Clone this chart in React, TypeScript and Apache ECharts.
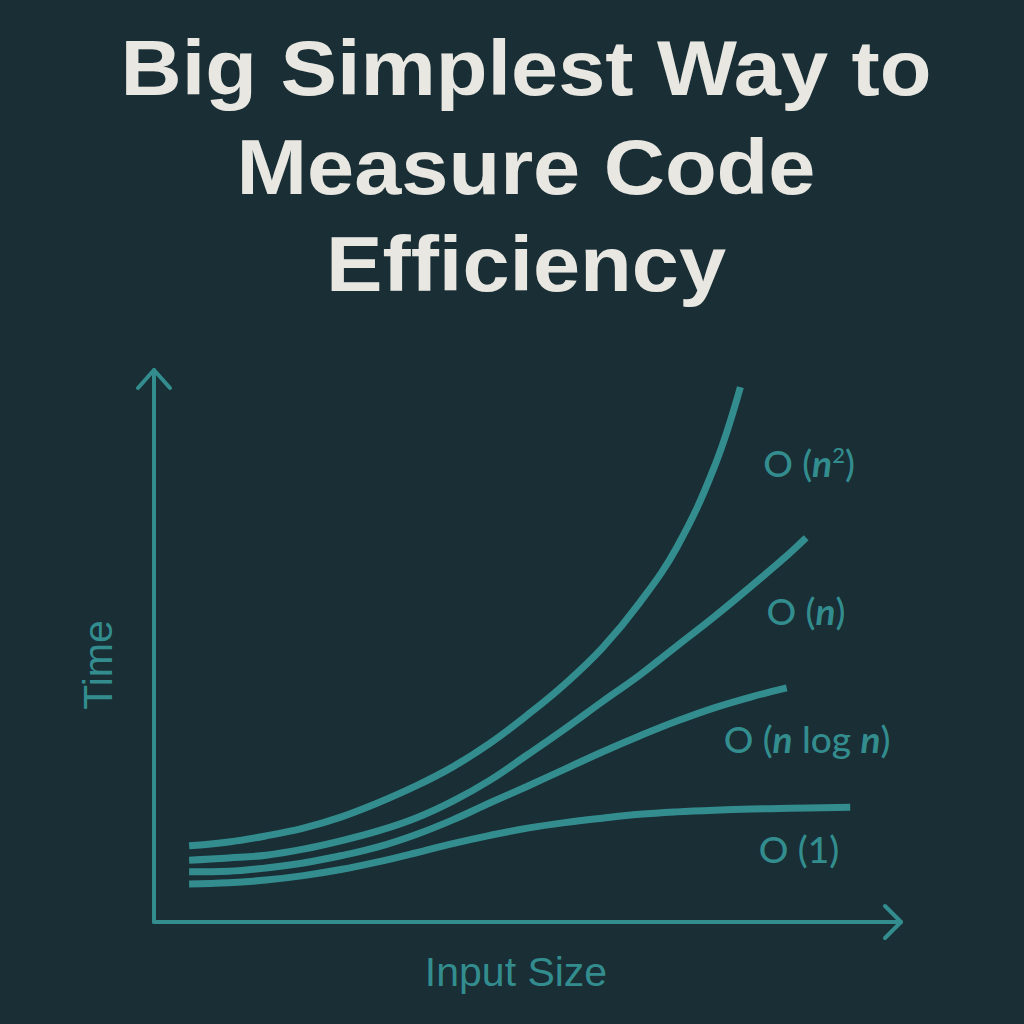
import React, { useEffect, useRef } from "react";
import * as echarts from "echarts";

const TITLE_LINES = ["Big Simplest Way to", "Measure Code", "Efficiency"];
const X_NAME = "Input Size";
const Y_NAME = "Time";

const SERIES_NAMES = ["O(n²)", "O(n)", "O(n log n)", "O(1)"];
const X_QUAD = [4.7, 10, 15, 20, 25, 30, 35, 40, 45, 50, 55, 60, 65, 70, 75, 78.5];
const Y_QUAD = [13.8, 14.5, 15.6, 17.0, 19.0, 21.6, 24.6, 28.1, 32.4, 37.5, 43.1, 49.6, 57.8, 67.9, 82.4, 96.9];
const X_LIN = [4.7, 10, 15, 20, 25, 30, 35, 40, 45, 50, 55, 60, 65, 70, 75, 80, 85, 87.3];
const Y_LIN = [11.2, 11.6, 12.1, 13.2, 14.7, 16.5, 18.8, 21.9, 25.7, 30.3, 35.0, 39.9, 44.7, 50.0, 55.3, 60.9, 66.7, 69.6];
const X_NLOG = [4.7, 10, 15, 20, 25, 30, 35, 40, 45, 50, 55, 60, 65, 70, 75, 80, 84.7];
const Y_NLOG = [9.1, 9.2, 9.8, 10.7, 12.0, 13.6, 15.8, 18.5, 21.6, 24.6, 27.7, 30.8, 33.7, 36.4, 38.8, 40.8, 42.4];
const X_CONST = [4.7, 10, 15, 20, 25, 30, 35, 40, 45, 50, 55, 60, 65, 70, 75, 80, 85, 93.2];
const Y_CONST = [6.9, 7.1, 7.6, 8.4, 9.5, 10.9, 12.5, 14.2, 15.7, 17.0, 18.0, 18.8, 19.5, 19.95, 20.25, 20.45, 20.6, 20.8];

const BG = "#192e35";
const TEAL = "#338d8e";
const TITLE_COLOR = "#e8e7e1";

const zip = (xs: number[], ys: number[]) => xs.map((x, i) => [x, ys[i]]);

export default function App() {
  const ref = useRef<HTMLDivElement>(null);
  useEffect(() => {
    if (!ref.current) return;
    const chart = echarts.init(ref.current, undefined, { renderer: "svg" });
    const seriesData = [
      zip(X_QUAD, Y_QUAD),
      zip(X_LIN, Y_LIN),
      zip(X_NLOG, Y_NLOG),
      zip(X_CONST, Y_CONST),
    ];
    const labelRich = {
      o: { fontFamily: "Lato", fontSize: 37, fontWeight: 500, fill: TEAL },
      i: { fontFamily: "Lato", fontSize: 37, fontWeight: "bold", fontStyle: "italic", fill: TEAL },
      s: { fontFamily: "Lato", fontSize: 22, fontWeight: 500, fill: TEAL, verticalAlign: "top" },
    };
    const labels = [
      { text: "{o|O (}{i|n}{s|2}{o|)}", x: 809, y: 462 },
      { text: "{o|O (}{i|n}{o|)}", x: 806, y: 610 },
      { text: "{o|O (}{i|n}{o| log }{i|n}{o|)}", x: 807, y: 738 },
      { text: "{o|O (1)}", x: 799, y: 848 },
    ];
    const graphic: any[] = [];
    const titleY = [68, 167, 264];
    TITLE_LINES.forEach((t, k) => {
      graphic.push({
        type: "text",
        x: 526,
        y: titleY[k],
        scaleX: 1.1,
        style: {
          text: t,
          fill: TITLE_COLOR,
          font: "bold 77px 'Liberation Sans', Arial, sans-serif",
          textAlign: "center",
          textVerticalAlign: "middle",
        },
      });
    });
    labels.forEach((l) => {
      graphic.push({
        type: "text",
        x: l.x,
        y: l.y,
        style: {
          text: l.text,
          rich: labelRich,
          fill: TEAL,
          textAlign: "center",
          textVerticalAlign: "middle",
        },
      });
    });
    graphic.push({
      type: "text",
      x: 516,
      y: 972,
      style: {
        text: X_NAME,
        fill: TEAL,
        font: "500 41px 'Liberation Sans', Arial, sans-serif",
        textAlign: "center",
        textVerticalAlign: "middle",
      },
    });
    graphic.push({
      type: "text",
      x: 98,
      y: 665,
      rotation: Math.PI / 2,
      style: {
        text: Y_NAME,
        fill: TEAL,
        font: "500 41px 'Liberation Sans', Arial, sans-serif",
        textAlign: "center",
        textVerticalAlign: "middle",
      },
    });
    graphic.push({
      type: "polyline",
      shape: { points: [[138, 388], [154, 370], [170, 388]] },
      style: { stroke: TEAL, lineWidth: 4, fill: "none", lineJoin: "round", lineCap: "round" },
    });
    graphic.push({
      type: "polyline",
      shape: { points: [[885, 906], [901, 922], [885, 938]] },
      style: { stroke: TEAL, lineWidth: 4, fill: "none", lineJoin: "round", lineCap: "round" },
    });

    chart.setOption({
      animation: false,
      backgroundColor: BG,
      grid: { left: 154, right: 123, top: 370, bottom: 102, containLabel: false },
      xAxis: {
        type: "value",
        min: 0,
        max: 100,
        axisLine: { show: true, lineStyle: { color: TEAL, width: 4 } },
        axisTick: { show: false },
        axisLabel: { show: false },
        splitLine: { show: false },
      },
      yAxis: {
        type: "value",
        min: 0,
        max: 100,
        axisLine: { show: true, lineStyle: { color: TEAL, width: 4 } },
        axisTick: { show: false },
        axisLabel: { show: false },
        splitLine: { show: false },
      },
      series: seriesData.map((d, k) => ({
        type: "line",
        name: SERIES_NAMES[k],
        data: d,
        smooth: 0.4,
        showSymbol: false,
        clip: false,
        lineStyle: { color: TEAL, width: 7, cap: "butt" },
        itemStyle: { color: TEAL },
      })),
      graphic,
    });
    return () => chart.dispose();
  }, []);
  return (
    <div
      ref={ref}
      style={{ position: "fixed", left: 0, top: 0, width: 1024, height: 1024 }}
    />
  );
}
